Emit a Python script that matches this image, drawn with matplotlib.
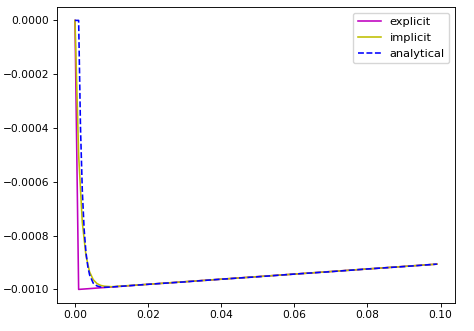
import matplotlib
matplotlib.use("Agg")
import matplotlib.pyplot as plt

# explicit scheme (dt = 0.001)
x_explicit = [0.0, 0.001, 0.01, 0.02, 0.04, 0.06, 0.08, 0.099]
y_explicit = [0.0, -0.001, -0.000991, -0.000981, -0.000962, -0.000943, -0.000924, -0.000906]

# implicit scheme
x_implicit = [0.0, 0.001, 0.002, 0.003, 0.004, 0.005, 0.006, 0.007, 0.008, 0.01,
              0.02, 0.04, 0.06, 0.08, 0.099]
y_implicit = [0.0, -0.0005, -0.00075, -0.000874, -0.000935, -0.000964, -0.000978,
              -0.000985, -0.000988, -0.000990, -0.000981, -0.000962, -0.000943,
              -0.000924, -0.000906]

# analytical solution
x_analytical = [0.0, 0.001, 0.0015, 0.002, 0.0025, 0.003, 0.0035, 0.004, 0.005,
                0.006, 0.007, 0.008, 0.01, 0.02, 0.03, 0.04, 0.05, 0.06, 0.07,
                0.08, 0.09, 0.099]
y_analytical = [0.0, 0.0, -0.000393, -0.000631, -0.000775, -0.000862, -0.000914,
                -0.000946, -0.000977, -0.000987, -0.000991, -0.000992, -0.000991,
                -0.000981, -0.000972, -0.000962, -0.000953, -0.000943, -0.000934,
                -0.000924, -0.000915, -0.000906]

# the reference looks like a default figure scaled down, so shrink everything a bit
plt.rcParams['font.size'] = 7.7
plt.rcParams['lines.linewidth'] = 1.15
plt.rcParams['axes.linewidth'] = 0.65
for a in ('xtick', 'ytick'):
    plt.rcParams[a + '.major.size'] = 2.7
    plt.rcParams[a + '.major.width'] = 0.65
    plt.rcParams[a + '.major.pad'] = 2.7

fig = plt.figure(figsize=(4.74, 3.31), dpi=100)
ax = fig.add_axes([0.120, 0.085, 0.840, 0.894])

ax.plot(x_explicit, y_explicit, 'm', label='explicit')
ax.plot(x_implicit, y_implicit, 'y', label='implicit')
ax.plot(x_analytical, y_analytical, 'b--', label='analytical')

ax.legend(loc='upper right', fontsize=8.2)

fig.savefig("out.png")
